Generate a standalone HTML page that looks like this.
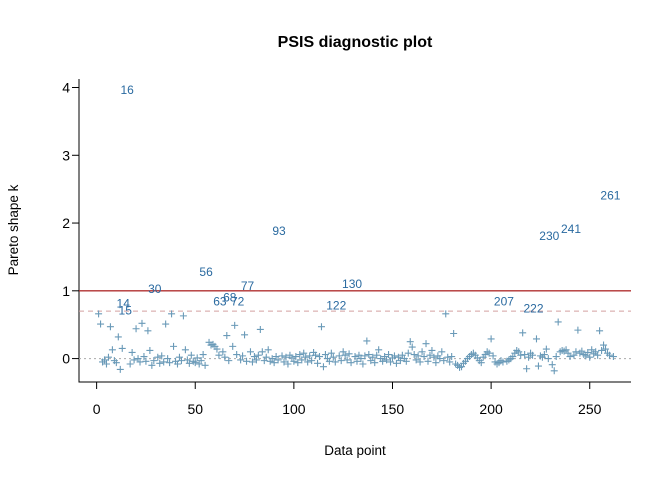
<!DOCTYPE html>
<html><head><meta charset="utf-8"><style>
body{margin:0;background:#fff;}
svg{display:block;font-family:"Liberation Sans",sans-serif;}
</style></head><body>
<svg id="chart" width="672" height="480" viewBox="0 0 672 480">
<text x="355" y="47" text-anchor="middle" font-size="16" font-weight="bold">PSIS diagnostic plot</text>
<text x="355" y="455" text-anchor="middle" font-size="13.5">Data point</text>
<text transform="translate(18,230) rotate(-90)" text-anchor="middle" font-size="13.5">Pareto shape k</text>
<g id="axes"></g><g id="marks"></g>
</svg>
<script>
const xTicks=[0,50,100,150,200,250];
const yTicks=[0,1,2,3,4];
const thresholds=[0,0.7,1];
const kValues=[
0.66,0.51,-0.05,-0.02,-0.08,0.02,0.47,0.13,-0.03,-0.06,0.32,-0.16,0.15,0.81,0.71,3.96,-0.08,0.09,-0.02,0.44,
0.0,-0.05,0.52,0.03,-0.04,0.41,0.12,-0.1,-0.03,1.03,0.02,-0.07,0.04,-0.05,0.51,0.0,-0.06,0.66,0.18,-0.04,
-0.08,0.02,-0.03,0.63,0.13,-0.02,-0.07,0.05,-0.04,-0.06,0.01,-0.08,-0.03,0.06,-0.1,1.28,0.24,0.2,0.21,0.18,
0.14,0.05,0.84,0.1,0.02,0.34,-0.03,0.9,0.18,0.49,0.06,0.84,-0.02,0.04,0.35,-0.04,1.07,0.1,-0.05,0.03,
-0.02,0.05,0.43,0.1,-0.03,0.02,0.13,-0.04,0.0,-0.06,0.03,-0.02,1.88,0.04,-0.05,0.02,-0.08,0.05,0.01,-0.04,
0.03,-0.06,0.06,-0.02,0.08,0.02,-0.05,0.04,-0.03,0.09,0.05,-0.07,0.03,0.47,-0.12,0.06,0.0,-0.04,0.08,0.02,
-0.05,0.78,0.04,-0.03,0.1,0.05,-0.02,0.07,-0.06,1.10,0.03,-0.04,0.05,0.0,-0.08,0.04,0.26,0.06,-0.03,0.02,
-0.06,0.05,0.13,0.0,-0.04,0.03,-0.02,0.06,-0.05,0.01,0.04,-0.07,0.02,-0.03,0.05,0.0,-0.04,0.08,0.25,0.17,
0.06,-0.02,0.04,-0.05,0.1,0.03,0.22,-0.04,0.05,0.12,0.02,-0.06,0.04,0.0,0.1,-0.03,0.66,0.02,-0.05,0.03,
0.37,-0.08,-0.1,-0.13,-0.12,-0.07,-0.04,0.0,0.03,0.06,0.08,0.05,0.01,-0.03,-0.06,0.02,0.06,0.1,0.08,0.29,
0.04,-0.05,-0.08,-0.06,-0.03,-0.05,0.84,-0.04,-0.02,0.0,0.03,0.08,0.12,0.1,0.05,0.38,0.06,-0.15,0.02,0.08,
0.05,0.74,0.29,-0.11,0.04,0.02,0.06,0.14,0.0,1.81,-0.09,-0.18,0.03,0.54,0.1,0.12,0.11,0.13,0.08,0.03,
1.91,0.05,0.1,0.42,0.08,0.11,0.06,0.04,0.09,0.02,0.13,0.07,0.1,0.05,0.41,0.12,0.2,0.14,0.08,0.05,2.41,0.03];
const NS="http://www.w3.org/2000/svg";
const n=kValues.length;
const xmin=1-(n-1)*0.04, xmax=n+(n-1)*0.04;
const kmin=Math.min(...kValues), kmax=Math.max(...kValues);
const ymin=kmin-(kmax-kmin)*0.04, ymax=kmax+(kmax-kmin)*0.04;
const L=78,R=634,T=79,B=382;
const sx=v=>L+(v-xmin)/(xmax-xmin)*(R-L);
const sy=v=>B-(v-ymin)/(ymax-ymin)*(B-T);
function mk(tag,attrs,parent){const e=document.createElementNS(NS,tag);for(const k in attrs)e.setAttribute(k,attrs[k]);parent.appendChild(e);return e;}
const axes=document.getElementById('axes'), marks=document.getElementById('marks');
let e=mk('path',{d:`M${L+1},${T} V${B} H${R-3}`,fill:'none',stroke:'#000','stroke-width':1},axes);

xTicks.forEach(t=>{const x=sx(t);
 let l=mk('line',{x1:x,x2:x,y1:B,y2:B+7,stroke:'#000'},axes);
 
 let tx=mk('text',{x:x,y:B+32,'text-anchor':'middle','font-size':14},axes);tx.textContent=t;
 });
yTicks.forEach(t=>{const y=sy(t);
 let l=mk('line',{x1:L+1,x2:L-6,y1:y,y2:y,stroke:'#000'},axes);
 
 let tx=mk('text',{x:L-8,y:y+5,'text-anchor':'end','font-size':14},axes);tx.textContent=t;
 });
const hs=[{c:'#aaaaaa',d:'2,3'},{c:'#d4a0a0',d:'5,4'},{c:'#b03030',d:''}];
thresholds.forEach((t,i)=>{let l=mk('line',{x1:L+1,x2:R-3,y1:sy(t),y2:sy(t),stroke:hs[i].c,'stroke-width':i==2?1.3:1,'stroke-dasharray':hs[i].d},axes);
 });
kValues.forEach((k,i)=>{const x=sx(i+1),y=sy(k);
 if(k>0.7){let t=mk('text',{x:x-1,y:y+4,'text-anchor':'middle','font-size':12,fill:'#2a6aa0'},marks);t.textContent=i+1;
  }
 else{let p=mk('path',{d:`M${x-3.5},${y}H${x+3.5}M${x},${y-3.5}V${y+3.5}`,stroke:'#6a9ab8','stroke-width':1.1},marks);
  }});
</script>
</body></html>
